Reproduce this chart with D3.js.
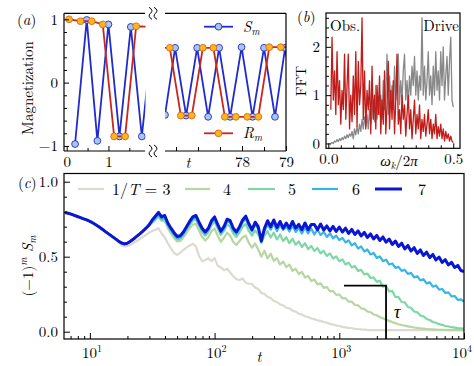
<!DOCTYPE html>
<html><head><meta charset="utf-8">
<script src="https://cdn.jsdelivr.net/npm/d3@7"></script>
<style>
body{margin:0;background:#fff;}
</style></head><body>
<svg id="chart" width="474" height="366"></svg>
<script>
// ---------------- DATA ----------------
// Panel (a): stroboscopic magnetization, early window
const tS1 = [0.20, 0.48, 0.735, 1.00, 1.264, 1.536, 1.80, 2.07];
const S1  = [-0.97, 0.99, -0.92, 0.92, -0.85, 0.88, -0.85, 0.85];
const tR1 = [0.056, 0.33, 0.60, 0.864, 1.136, 1.40, 1.664, 2.00];
const R1  = [1.00, 0.97, 0.97, 0.92, -0.85, -0.85, 0.89, 0.88];
// Panel (a): late window
const tS2 = [76.00, 76.25, 76.48, 76.73, 76.98, 77.23, 77.48, 77.73, 77.99, 78.24, 78.50, 78.75, 78.98, 79.23];
const S2  = [0.55, -0.51, 0.55, -0.52, 0.55, -0.54, 0.55, -0.54, 0.56, -0.54, 0.55, -0.54, 0.55, -0.54];
const tR2 = [76.10, 76.36, 76.61, 76.86, 77.11, 77.35, 77.61, 77.86, 78.12, 78.37, 78.62, 78.88, 79.13];
const R2  = [0.55, 0.55, -0.52, -0.52, 0.55, 0.55, -0.54, -0.54, -0.54, -0.54, 0.56, 0.56, 0.56];
const yTicksA = [-1, 0, 1];

// Panel (b): FFT spectra
const freq = [0.010,0.015,0.020,0.025,0.030,0.035,0.040,0.045,0.050,0.055,
0.060,0.065,0.070,0.075,0.080,0.085,0.090,0.095,0.100,0.105,
0.110,0.115,0.120,0.125,0.130,0.135,0.140,0.145,0.150,0.155,
0.160,0.165,0.170,0.175,0.180,0.185,0.190,0.195,0.200,0.205,
0.210,0.215,0.220,0.225,0.230,0.235,0.240,0.245,0.250,0.255,
0.260,0.265,0.270,0.275,0.280,0.285,0.290,0.295,0.300,0.305,
0.310,0.315,0.320,0.325,0.330,0.335,0.340,0.345,0.350,0.355,
0.360,0.365,0.370,0.375,0.380,0.385,0.390,0.395,0.400,0.405,
0.410,0.415,0.420,0.425,0.430,0.435,0.440,0.445,0.450,0.455,
0.460,0.465,0.470,0.475,0.480,0.485,0.490,0.495,0.500];
const fftObs = [0.70,2.20,0.90,1.50,0.60,1.90,0.80,1.30,0.40,1.10,
0.70,1.85,0.50,1.20,1.85,0.30,1.00,0.45,1.40,0.60,
1.90,0.35,1.70,0.80,1.20,2.60,0.50,1.50,0.30,1.10,
0.70,1.30,0.20,1.60,0.50,1.00,0.30,1.20,0.60,1.40,
0.20,0.90,0.40,1.50,0.20,0.80,1.70,0.30,1.10,0.50,
1.30,0.20,0.90,1.85,0.40,0.70,0.20,1.00,0.50,0.80,
0.15,0.60,1.00,0.30,0.70,0.10,0.50,0.90,0.20,0.60,
0.30,0.80,0.10,0.50,0.25,0.60,0.15,0.40,0.70,0.20,
0.50,0.10,0.40,0.20,0.60,0.10,0.35,0.15,0.40,0.10,
0.30,0.05,0.25,0.10,0.20,0.05,0.15,0.05,0.02];
const fftDrive = [0.00,0.02,0.00,0.05,0.03,0.08,0.04,0.10,0.06,0.12,
0.08,0.15,0.10,0.18,0.12,0.20,0.15,0.25,0.10,0.30,
0.18,0.35,0.20,0.40,0.25,0.50,0.30,0.55,0.35,0.60,
0.30,0.70,0.40,0.60,0.90,0.45,1.20,0.50,0.90,0.60,
1.00,0.50,1.30,0.70,1.00,1.85,0.60,1.40,0.80,1.20,
0.70,1.60,0.90,1.30,1.85,0.80,1.30,0.90,1.50,1.85,
0.90,1.30,0.80,1.40,1.00,1.60,1.20,1.80,1.00,1.50,
0.90,1.40,1.10,2.60,1.00,1.60,0.90,1.30,1.90,1.00,
1.40,0.80,1.60,1.00,1.90,1.10,1.50,0.90,1.90,1.20,
2.00,0.90,1.40,1.80,1.00,1.70,2.20,0.90,0.75];

// Panel (c): log10(t) sampling and (-1)^m S_m for 1/T = 3..7
const logT = [0.800,0.825,0.850,0.875,0.900,0.925,0.950,0.975,1.000,1.025,
1.050,1.075,1.100,1.125,1.150,1.175,1.200,1.225,1.250,1.275,
1.300,1.325,1.350,1.375,1.400,1.425,1.450,1.475,1.500,1.525,
1.550,1.575,1.600,1.625,1.650,1.675,1.700,1.725,1.750,1.775,
1.800,1.825,1.850,1.875,1.900,1.925,1.950,1.975,2.000,2.025,
2.050,2.075,2.100,2.125,2.150,2.175,2.200,2.225,2.250,2.275,
2.300,2.325,2.350,2.375,2.400,2.425,2.450,2.475,2.500,2.525,
2.550,2.575,2.600,2.625,2.650,2.675,2.700,2.725,2.750,2.775,
2.800,2.825,2.850,2.875,2.900,2.925,2.950,2.975,3.000,3.025,
3.050,3.075,3.100,3.125,3.150,3.175,3.200,3.225,3.250,3.275,
3.300,3.325,3.350,3.375,3.400,3.425,3.450,3.475,3.500,3.525,
3.550,3.575,3.600,3.625,3.650,3.675,3.700,3.725,3.750,3.775,
3.800,3.825,3.850,3.875,3.900,3.925,3.950,3.975,4.000];
const S7 = [0.795,0.790,0.784,0.776,0.768,0.760,0.752,0.745,0.736,0.725,
0.712,0.698,0.683,0.667,0.652,0.637,0.622,0.607,0.593,0.585,
0.590,0.603,0.618,0.635,0.652,0.670,0.690,0.712,0.745,0.770,
0.795,0.765,0.775,0.725,0.690,0.660,0.635,0.640,0.665,0.700,
0.735,0.765,0.775,0.730,0.690,0.665,0.690,0.740,0.765,0.715,
0.670,0.700,0.750,0.740,0.690,0.665,0.700,0.745,0.770,0.720,
0.680,0.730,0.700,0.605,0.690,0.740,0.700,0.745,0.695,0.735,
0.690,0.725,0.690,0.735,0.690,0.715,0.680,0.725,0.680,0.715,
0.715,0.680,0.718,0.678,0.705,0.672,0.702,0.668,0.698,0.665,
0.690,0.655,0.682,0.648,0.672,0.638,0.662,0.628,0.652,0.618,
0.642,0.608,0.632,0.596,0.618,0.582,0.604,0.568,0.590,0.552,
0.575,0.538,0.560,0.522,0.545,0.508,0.530,0.494,0.515,0.478,
0.498,0.462,0.480,0.445,0.462,0.428,0.442,0.408,0.400];
// tails (after the curves separate from 1/T = 7)
const S6tail = [0.735,0.757,
0.780,0.752,0.760,0.712,0.678,0.648,0.622,0.628,0.652,0.688,
0.722,0.752,0.762,0.718,0.678,0.652,0.678,0.726,0.750,0.702,
0.658,0.688,0.736,0.726,0.676,0.652,0.688,0.730,0.752,0.705,
0.668,0.712,0.685,0.598,0.672,0.715,0.680,0.720,0.670,0.712,
0.678,0.700,0.668,0.708,0.665,0.690,0.655,0.695,0.655,0.688,
0.648,0.680,0.645,0.665,0.632,0.655,0.622,0.640,0.610,0.625,
0.595,0.608,0.575,0.590,0.555,0.568,0.535,0.548,0.515,0.525,
0.492,0.502,0.470,0.480,0.448,0.455,0.425,0.432,0.405,0.412,
0.385,0.392,0.362,0.370,0.342,0.350,0.322,0.330,0.300,0.308,
0.280,0.285,0.258,0.262,0.235,0.238,0.212,0.215,0.200];
const S5tail = [0.730,0.750,
0.772,0.745,0.748,0.702,0.668,0.640,0.615,0.620,0.645,0.680,
0.712,0.740,0.748,0.705,0.665,0.640,0.665,0.710,0.732,0.688,
0.645,0.672,0.715,0.700,0.655,0.632,0.662,0.700,0.718,0.670,
0.640,0.675,0.650,0.590,0.640,0.670,0.628,0.660,0.615,0.648,
0.605,0.630,0.590,0.620,0.580,0.602,0.565,0.590,0.550,0.572,
0.538,0.558,0.522,0.540,0.505,0.522,0.488,0.502,0.470,0.482,
0.448,0.460,0.428,0.438,0.405,0.412,0.382,0.388,0.358,0.362,
0.332,0.340,0.300,0.305,0.268,0.272,0.232,0.230,0.198,0.195,
0.165,0.160,0.135,0.130,0.108,0.102,0.085,0.078,0.065,0.060,
0.050,0.046,0.038,0.035,0.030,0.027,0.024,0.022,0.020];
const S4tail = [0.725,0.745,
0.765,0.738,0.738,0.692,0.655,0.625,0.602,0.605,0.628,0.660,
0.690,0.715,0.718,0.675,0.632,0.608,0.630,0.670,0.688,0.640,
0.600,0.625,0.660,0.640,0.598,0.578,0.605,0.630,0.640,0.590,
0.560,0.588,0.548,0.500,0.540,0.488,0.520,0.472,0.490,0.448,
0.468,0.430,0.448,0.405,0.420,0.385,0.398,0.362,0.372,0.338,
0.348,0.315,0.322,0.292,0.298,0.268,0.272,0.245,0.248,0.222,
0.224,0.200,0.200,0.178,0.176,0.156,0.152,0.135,0.130,0.115,
0.110,0.097,0.090,0.080,0.072,0.064,0.057,0.050,0.045,0.040,
0.036,0.032,0.028,0.025,0.022,0.020,0.018,0.016,0.015,0.014,
0.013,0.012,0.012,0.011,0.011,0.010,0.010,0.010,0.010];
const S3tail = [0.600,0.578,0.568,
0.570,0.580,0.592,0.605,0.618,0.632,0.645,0.660,0.672,0.680,
0.690,0.655,0.630,0.590,0.555,0.525,0.512,0.528,0.545,0.560,
0.575,0.585,0.570,0.505,0.470,0.478,0.490,0.470,0.490,0.440,
0.430,0.410,0.420,0.395,0.370,0.350,0.345,0.355,0.325,0.320,
0.318,0.295,0.285,0.258,0.252,0.232,0.225,0.205,0.198,0.182,
0.176,0.160,0.155,0.140,0.134,0.120,0.115,0.102,0.098,0.088,
0.084,0.075,0.072,0.064,0.060,0.052,0.048,0.041,0.038,0.032,
0.029,0.025,0.023,0.019,0.018,0.015,0.014,0.012,0.011,0.010,
0.010,0.010,0.010,0.010,0.010,0.010,0.010,0.010,0.010,0.010,
0.010,0.010,0.010,0.010,0.010,0.010,0.010,0.010,0.010,0.010,
0.010,0.010,0.010,0.010,0.010,0.010,0.010,0.010,0.010];
const invT = ["1/T = 3", "4", "5", "6", "7"];
const colorsC = ["#dcdad0", "#b6d6a2", "#7fd6a6", "#38b6e2", "#0b16d2"];
const tau = 2370, tauLevel = 0.307, tauStart = 1090;

// ---------------- DRAWING ----------------
const FONT = '"Latin Modern Roman"';
const svg = d3.select('#chart').attr('font-family', FONT);
const defs = svg.append('defs');
function clip(id, x, y, w, h){ defs.append('clipPath').attr('id', id).append('rect').attr('x',x).attr('y',y).attr('width',w).attr('height',h); }
function ax(gen, tx, ty, fs){
  const g = svg.append('g').attr('transform', `translate(${tx},${ty})`).call(gen);
  g.select('.domain').remove();
  g.attr('font-family', FONT).attr('font-size', fs || 15);
  g.selectAll('text').attr('font-family', FONT).attr('fill', '#000');
  g.selectAll('line').attr('stroke', '#000').attr('stroke-width', 1);
  return g;
}
function txt(x, y, parts, opt){
  opt = opt || {};
  const t = svg.append('text').attr('x', x).attr('y', y).attr('font-size', opt.fs || 15)
    .attr('font-family', FONT).attr('fill', '#000')
    .attr('text-anchor', opt.anchor || 'start');
  if (opt.rot) t.attr('transform', `rotate(${opt.rot},${x},${y})`);
  parts.forEach(p => {
    const s = t.append('tspan').text(p.t);
    if (p.i) s.attr('font-style', 'italic');
    if (p.fs) s.attr('font-size', p.fs);
    if (p.dy) s.attr('dy', p.dy);
  });
  return t;
}
function spine(x1, y1, x2, y2){ svg.append('line').attr('x1',x1).attr('y1',y1).attr('x2',x2).attr('y2',y2).attr('stroke','#000').attr('stroke-width',1.2); }

// ===== Panel (a) =====
const yA = d3.scaleLinear().domain([-1.08, 1.095]).range([151, 13.3]);
const xA1 = d3.scaleLinear().domain([-0.065, 1.90]).range([64, 146]);
const xA2 = d3.scaleLinear().domain([76.25, 79]).range([165, 286]);
clip('cA1', 60, 4, 85.5, 160);
clip('cA2', 165, 4, 121, 160);
const blueA = '#1f2bcc', blueFill = '#a9c6ef', redA = '#c9261c', orangeFill = '#f6b820', orangeEdge = '#e0651a';

function drawSeg(xs, clipId, tS, S, tR, R){
  const g = svg.append('g').attr('clip-path', `url(#${clipId})`);
  const sData = tS.map((t,i)=>[t,S[i]]), rData = tR.map((t,i)=>[t,R[i]]);
  const line = d3.line().x(d=>xs(d[0])).y(d=>yA(d[1]));
  g.append('path').attr('d', line(sData)).attr('fill','none').attr('stroke', blueA).attr('stroke-width', 1.8);
  g.selectAll('.sp').data(sData).join('circle').attr('cx', d=>xs(d[0])).attr('cy', d=>yA(d[1])).attr('r', 3.4)
    .attr('fill', blueFill).attr('stroke', blueA).attr('stroke-width', 0.9);
  g.append('path').attr('d', line(rData)).attr('fill','none').attr('stroke', redA).attr('stroke-width', 1.8);
  g.selectAll('.rp').data(rData).join('circle').attr('cx', d=>xs(d[0])).attr('cy', d=>yA(d[1])).attr('r', 3.4)
    .attr('fill', orangeFill).attr('stroke', orangeEdge).attr('stroke-width', 0.9);
}
drawSeg(xA1, 'cA1', tS1, S1, tR1, R1);
drawSeg(xA2, 'cA2', tS2, S2, tR2, R2);

// spines
spine(64, 13.3, 64, 151); spine(64, 13.3, 145, 13.3); spine(64, 151, 145, 151);
spine(165, 13.3, 286, 13.3); spine(165, 151, 286, 151); spine(286, 13.3, 286, 151);
// break marks
[13.3, 151].forEach(yb => {
  [150.5, 155.5].forEach(xb => {
    svg.append('path').attr('d', `M${xb-1.5},${yb-6} Q${xb+3.5},${yb-3} ${xb},${yb} T${xb+1.5},${yb+6}`)
      .attr('fill','none').attr('stroke','#000').attr('stroke-width',1);
  });
});
// ticks (a)
ax(d3.axisLeft(yA).tickValues(yTicksA).tickSize(-5).tickPadding(6).tickFormat(d3.format('d')), 64, 0);
ax(d3.axisLeft(yA).tickValues([-0.8,-0.6,-0.4,-0.2,0.2,0.4,0.6,0.8]).tickSize(-3).tickFormat(''), 64, 0);
ax(d3.axisBottom(xA1).tickValues([0, 1]).tickSize(-5).tickPadding(5).tickFormat(d3.format('d')), 0, 151);
ax(d3.axisBottom(xA1).tickValues([0.5, 1.5]).tickSize(-3).tickFormat(''), 0, 151);
ax(d3.axisBottom(xA2).tickValues([78, 79]).tickSize(-5).tickPadding(5).tickFormat(d3.format('d')), 0, 151);
ax(d3.axisBottom(xA2).tickValues([76.5, 77, 77.5, 78.5]).tickSize(-4).tickFormat(''), 0, 151);
txt(188, 168, [{t:'t', i:true}], {anchor:'middle'});
txt(17, 25, [{t:'('},{t:'a', i:true},{t:')'}]);
txt(33, 88, [{t:'Magnetization'}], {anchor:'middle', rot:-90});
// legend (a)
[[26.7, 'S', blueA, blueFill, blueA], [133.3, 'R', redA, orangeFill, orangeEdge]].forEach(([yy, s, lc, fc, ec]) => {
  svg.append('line').attr('x1', 204).attr('x2', 233).attr('y1', yy).attr('y2', yy).attr('stroke', lc).attr('stroke-width', 1.8);
  svg.append('circle').attr('cx', 218.5).attr('cy', yy).attr('r', 3.4).attr('fill', fc).attr('stroke', ec).attr('stroke-width', 0.9);
  txt(243, yy + 5, [{t:s, i:true}, {t:'m', i:true, fs:10, dy:3}]);
});

// ===== Panel (b) =====
const xB = d3.scaleLinear().domain([-0.0092, 0.527]).range([326, 460]);
const yB = d3.scaleLinear().domain([-0.10, 2.70]).range([148.3, 13]);
clip('cB', 326, 13, 134, 135.3);
const gB = svg.append('g').attr('clip-path', 'url(#cB)');
const lineB = d3.line().x(d=>xB(d[0])).y(d=>yB(d[1]));
gB.append('path').attr('d', lineB(freq.map((f,i)=>[f, fftDrive[i]]))).attr('fill','none').attr('stroke','#888888').attr('stroke-width',1.3).attr('stroke-linejoin','round');
gB.append('path').attr('d', lineB(freq.map((f,i)=>[f, fftObs[i]]))).attr('fill','none').attr('stroke','#bf1d1a').attr('stroke-width',1.3).attr('stroke-linejoin','round');
svg.append('rect').attr('x',326).attr('y',13).attr('width',134).attr('height',135.3).attr('fill','none').attr('stroke','#000').attr('stroke-width',1.2);
ax(d3.axisLeft(yB).tickValues([0,1,2]).tickSize(-5).tickPadding(6).tickFormat(d3.format('d')), 326, 0);
ax(d3.axisLeft(yB).tickValues([0.2,0.4,0.6,0.8,1.2,1.4,1.6,1.8,2.2,2.4,2.6]).tickSize(-3).tickFormat(''), 326, 0);
ax(d3.axisBottom(xB).tickValues([0, 0.5]).tickSize(-5).tickPadding(5).tickFormat(d3.format('.1f')), 0, 148.3);
ax(d3.axisBottom(xB).tickValues([0.05,0.1,0.15,0.2,0.25,0.3,0.35,0.4,0.45]).tickSize(-3).tickFormat(''), 0, 148.3);
txt(297, 22, [{t:'('},{t:'b', i:true},{t:')'}]);
txt(306, 81, [{t:'FFT'}], {anchor:'middle', rot:-90});
txt(330, 31, [{t:'Obs.'}]);
txt(459, 31, [{t:'Drive'}], {anchor:'end'});
txt(399, 166, [{t:'ω', i:true},{t:'k', i:true, fs:10, dy:3},{t:'/2', dy:-3},{t:'π', i:true}], {anchor:'middle'});

// ===== Panel (c) =====
const xC = d3.scaleLog().domain([6.2, 1e4]).range([64, 464]);
const yC = d3.scaleLinear().domain([-0.0487, 1.0547]).range([339, 173.5]);
clip('cC', 64, 173.5, 400, 165.5);
const gC = svg.append('g').attr('clip-path', 'url(#cC)');
const seriesC = [
  S7.slice(0, 17).concat(S3tail),
  S7.slice(0, 28).concat(S4tail),
  S7.slice(0, 28).concat(S5tail),
  S7.slice(0, 28).concat(S6tail),
  S7
];
const lineC = d3.line().x(d=>xC(Math.pow(10, d[0]))).y(d=>yC(d[1]));
seriesC.forEach((vals, k) => {
  const pts = logT.map((lt, i) => [lt, vals[i]]).filter(d => d[1] !== undefined);
  gC.append('path').attr('d', lineC(pts)).attr('fill','none').attr('stroke', colorsC[k])
    .attr('stroke-width', k === 4 ? 3.0 : 2.2).attr('stroke-linejoin','round');
});
// tau annotation
svg.append('path').attr('d', `M${xC(tauStart)},${yC(tauLevel)} H${xC(tau)} V${yC(-0.0487)}`)
  .attr('fill','none').attr('stroke','#000').attr('stroke-width',1.8);
txt(xC(tau) + 8, 318, [{t:'τ', i:true}], {fs:18});
svg.append('rect').attr('x',64).attr('y',173.5).attr('width',400).attr('height',165.5).attr('fill','none').attr('stroke','#000').attr('stroke-width',1.2);
ax(d3.axisLeft(yC).tickValues([0, 0.5, 1.0]).tickSize(-6).tickPadding(6).tickFormat(d3.format('.1f')), 64, 0);
ax(d3.axisLeft(yC).tickValues([0.1,0.2,0.3,0.4,0.6,0.7,0.8,0.9]).tickSize(-3).tickFormat(''), 64, 0);
const majC = [10, 100, 1000, 10000];
const minC = [];
[1, 10, 100, 1000].forEach(d => [2,3,4,5,6,7,8,9].forEach(m => { const v = d*m; if (v > 6.2 && v < 1e4) minC.push(v); }));
ax(d3.axisBottom(xC).tickValues(majC).tickSize(-6).tickFormat(''), 0, 339);
ax(d3.axisBottom(xC).tickValues(minC).tickSize(-3).tickFormat(''), 0, 339);
majC.forEach((v, i) => {
  const last = i === majC.length - 1;
  txt(last ? 472 : xC(v) + 2, 358, [{t:'10'}, {t:String(i+1), fs:10, dy:-6}], {anchor: last ? 'end' : 'middle'});
});
txt(259, 362, [{t:'t', i:true}], {anchor:'middle'});
txt(18, 188, [{t:'('},{t:'c', i:true},{t:')'}]);
txt(33, 266, [{t:'(−1)'},{t:'m', i:true, fs:10, dy:-6},{t:' S', i:true, dy:6},{t:'m', i:true, fs:10, dy:3}], {anchor:'middle', rot:-90});
// legend (c)
const legX = [[78, 104, 112, 'start'], [185, 210, 227, 'middle'], [248, 275, 292, 'middle'], [312, 338, 356, 'middle'], [375, 402, 422, 'middle']];
legX.forEach(([x1, x2, tx, anc], k) => {
  svg.append('line').attr('x1', x1).attr('x2', x2).attr('y1', 189).attr('y2', 189).attr('stroke', colorsC[k]).attr('stroke-width', k === 4 ? 3.0 : 2.2);
  if (k === 0) {
    txt(tx, 194.5, [{t:'1/'},{t:'T', i:true},{t:' = 3'}], {anchor:anc, fs:16});
  } else {
    txt(tx, 194.5, [{t:invT[k]}], {anchor:anc, fs:16});
  }
});
</script>
</body></html>
